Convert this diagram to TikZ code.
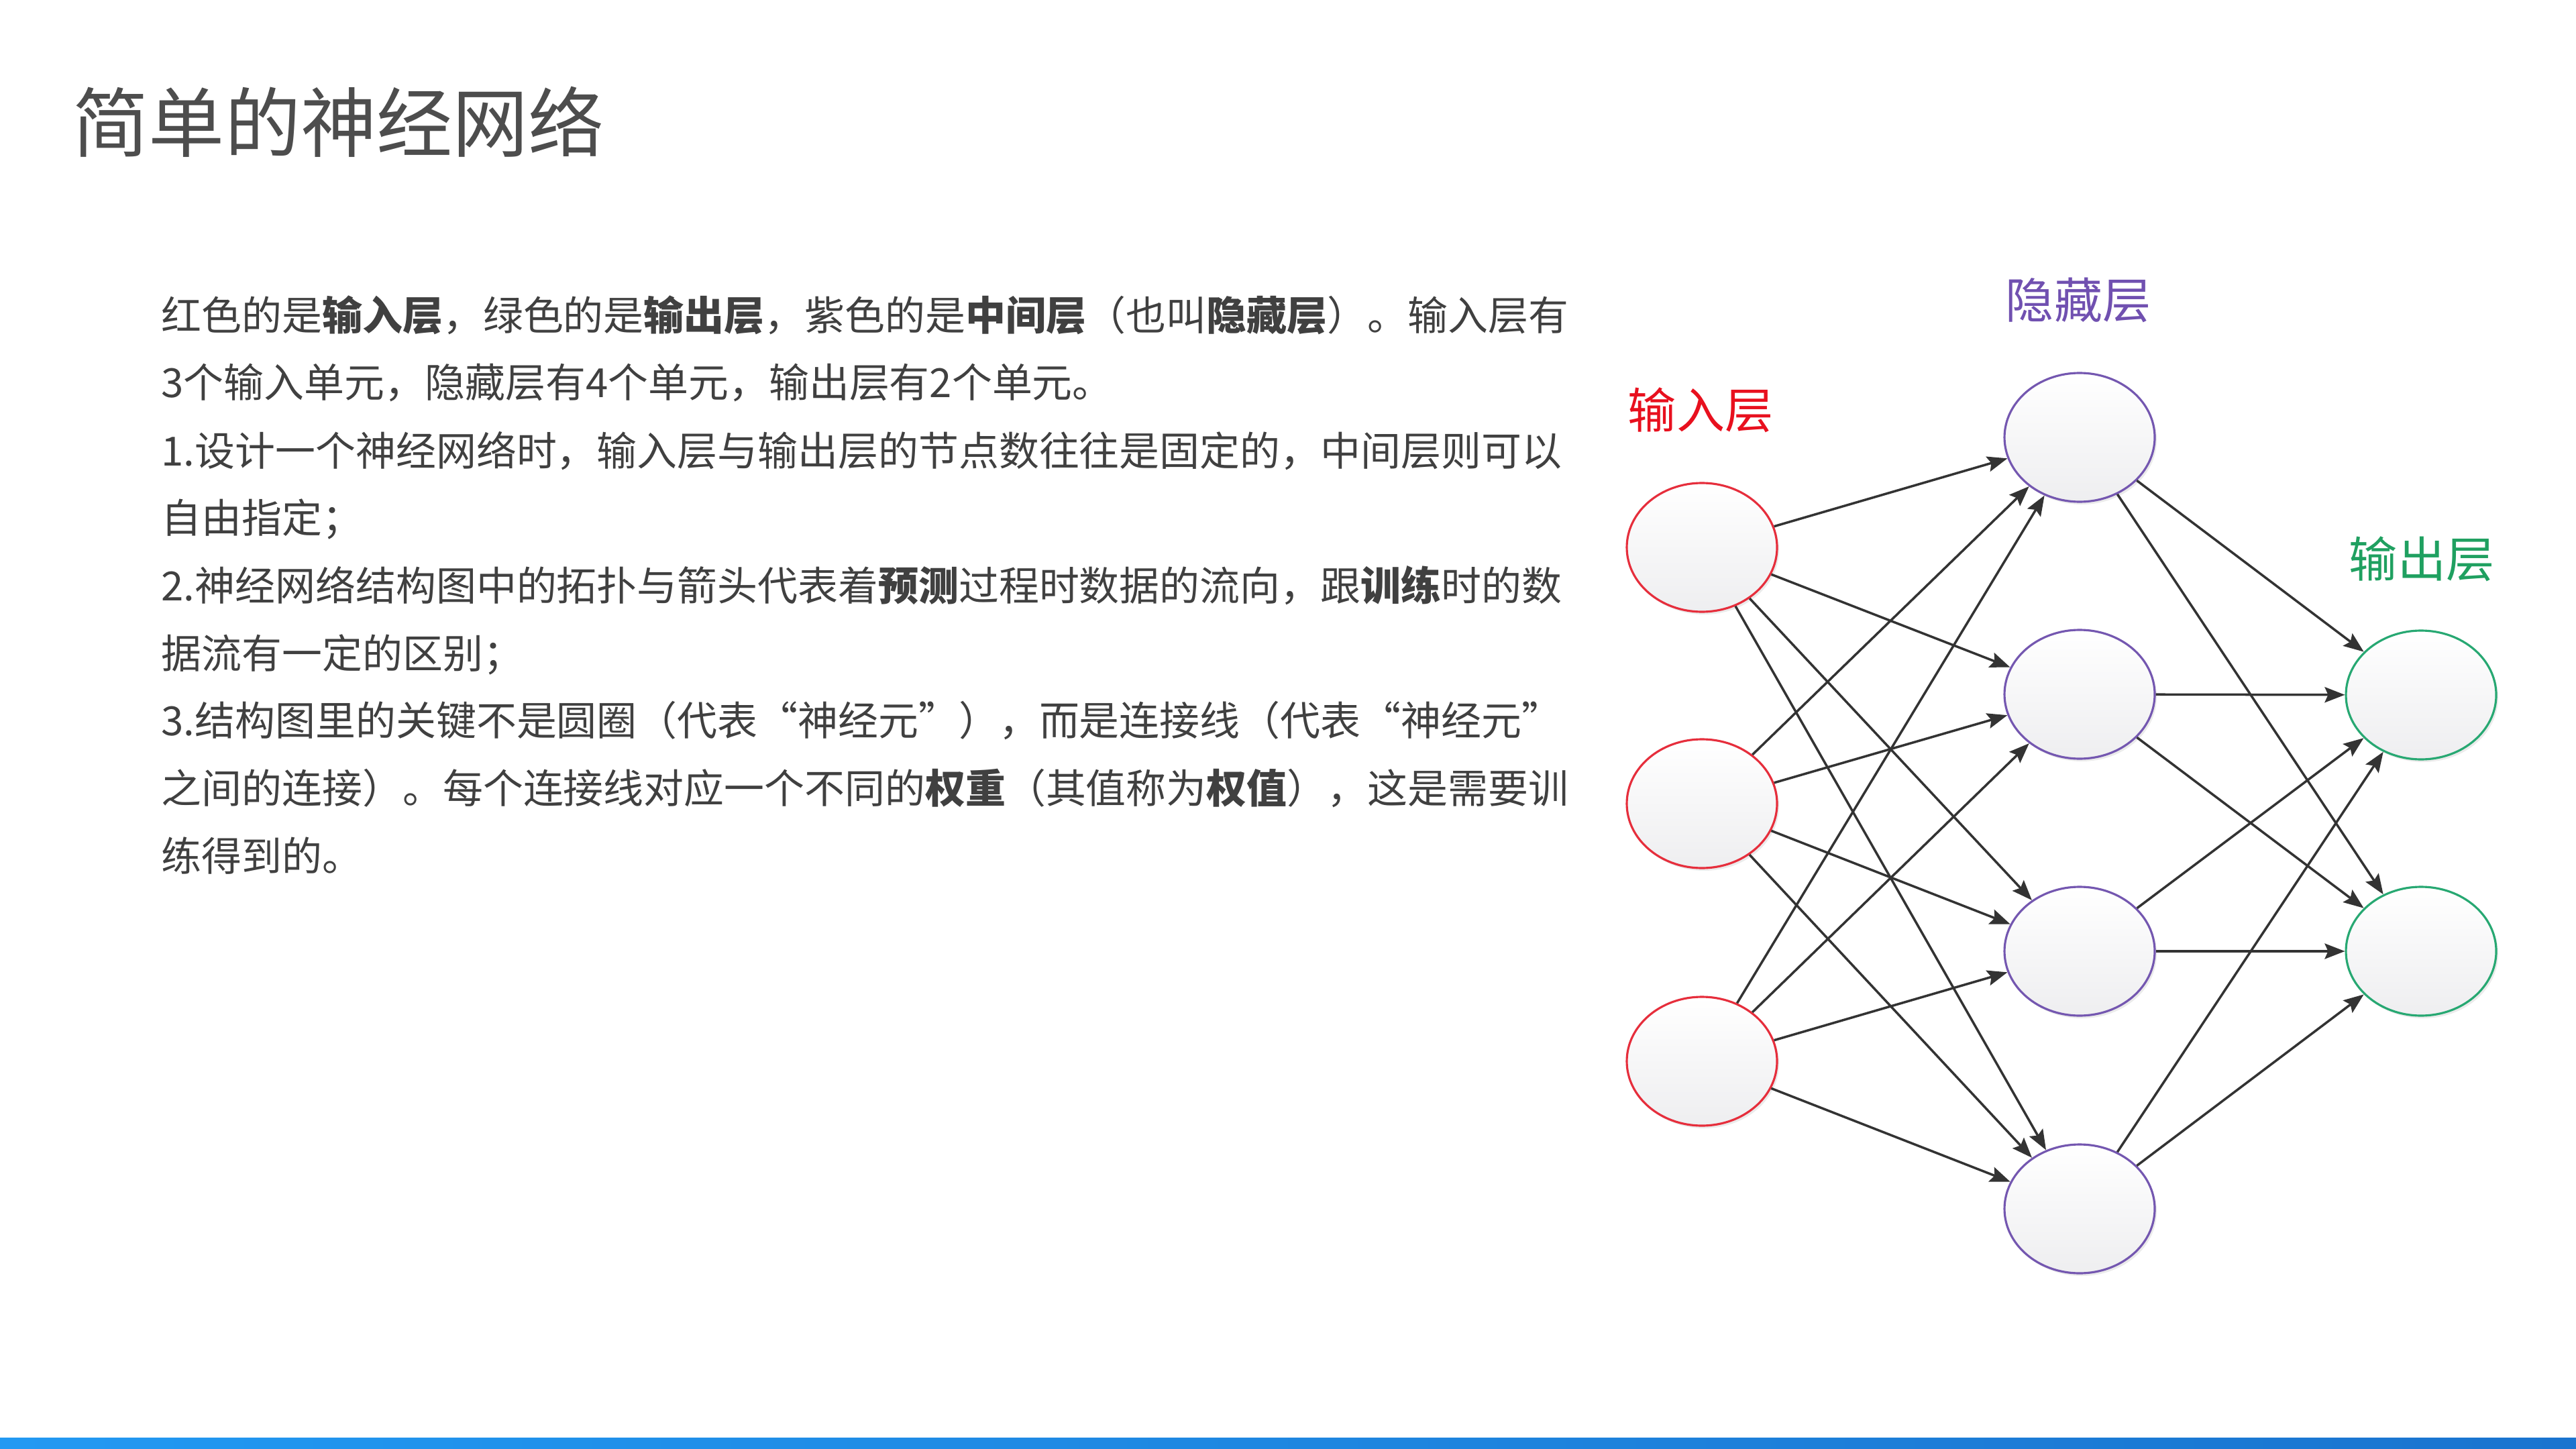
\documentclass[tikz,border=0pt]{standalone}
\usepackage{fontspec}
\setmainfont{Noto Sans CJK SC}
\usetikzlibrary{shapes.geometric,arrows.meta,shadows}
\definecolor{txt}{HTML}{404040}
\definecolor{ttl}{HTML}{4D4D4D}
\definecolor{cred}{HTML}{E62E3C}
\definecolor{cpur}{HTML}{7457B0}
\definecolor{cgrn}{HTML}{27A872}
\definecolor{lred}{HTML}{E8101E}
\definecolor{lpur}{HTML}{7050B0}
\definecolor{lgrn}{HTML}{1FA060}
\definecolor{nfill}{HTML}{EEEEF0}
\definecolor{arrowc}{HTML}{333333}
\definecolor{barl}{HTML}{2299F2}
\definecolor{barr}{HTML}{1A74CF}
\begin{document}
\begin{tikzpicture}[x=1cm,y=1cm,
  neuron/.style={ellipse, minimum width=2.24cm, minimum height=1.92cm, inner sep=0pt,
    line width=0.9pt, top color=white, bottom color=nfill,
    drop shadow={fill=black, opacity=0.08, shadow xshift=0.03cm, shadow yshift=-0.04cm}},
  inp/.style={neuron, draw=cred},
  hid/.style={neuron, draw=cpur},
  outn/.style={neuron, draw=cgrn},
  conn/.style={draw=arrowc, line width=1pt, -{Stealth[length=0.3cm,width=0.23cm,inset=0.05cm]}},
  body/.style={anchor=base west, inner sep=0pt, font=\fontsize{17.05}{20}\selectfont, text=txt},
  lbl/.style={anchor=base, inner sep=0pt, font=\fontsize{20.5}{24}\selectfont},
]
\fill[white] (0,0) rectangle (38.4,-21.6);
\useasboundingbox (0,0) rectangle (38.4,-21.6);

% title
\node[anchor=base west, inner sep=0pt, text=ttl, font=\fontsize{32.2}{36}\selectfont] (title) at (1.08,-2.26) {简单的神经网络};

% body text
\node[body] (t1) at (2.40,-4.923) {红色的是\textbf{输入层}，绿色的是\textbf{输出层}，紫色的是\textbf{中间层}（也叫\textbf{隐藏层}）。输入层有};
\node[body] (t2) at (2.40,-5.930) {3个输入单元，隐藏层有4个单元，输出层有2个单元。};
\node[body] (t3) at (2.40,-6.940) {1.设计一个神经网络时，输入层与输出层的节点数往往是固定的，中间层则可以};
\node[body] (t4) at (2.40,-7.945) {自由指定；};
\node[body] (t5) at (2.40,-8.953) {2.神经网络结构图中的拓扑与箭头代表着\textbf{预测}过程时数据的流向，跟\textbf{训练}时的数};
\node[body] (t6) at (2.40,-9.960) {据流有一定的区别；};
\node[body] (t7) at (2.40,-10.968) {3.结构图里的关键不是圆圈（代表“神经元”），而是连接线（代表“神经元”};
\node[body] (t8) at (2.40,-11.975) {之间的连接）。每个连接线对应一个不同的\textbf{权重}（其值称为\textbf{权值}），这是需要训};
\node[body] (t9) at (2.40,-12.983) {练得到的。};

% layer labels
\node[lbl, text=lred] (Lin) at (25.35,-6.39) {输入层};
\node[lbl, text=lpur] (Lhid) at (30.98,-4.75) {隐藏层};
\node[lbl, text=lgrn] (Lout) at (36.10,-8.60) {输出层};

% neurons
\node[inp] (i1) at (25.37,-8.16) {};
\node[inp] (i2) at (25.37,-11.98) {};
\node[inp] (i3) at (25.37,-15.82) {};
\node[hid] (h1) at (31.00,-6.52) {};
\node[hid] (h2) at (31.00,-10.35) {};
\node[hid] (h3) at (31.00,-14.18) {};
\node[hid] (h4) at (31.00,-18.02) {};
\node[outn] (o1) at (36.09,-10.36) {};
\node[outn] (o2) at (36.09,-14.18) {};

% connections
\foreach \a in {i1,i2,i3}{
  \foreach \b in {h1,h2,h3,h4}{
    \draw[conn] (\a) -- (\b);
  }
}
\foreach \a in {h1,h2,h3,h4}{
  \foreach \b in {o1,o2}{
    \draw[conn] (\a) -- (\b);
  }
}

% bottom bar
\shade[left color=barl, right color=barr] (0,-21.43) rectangle (38.4,-21.6);
\end{tikzpicture}
\end{document}
